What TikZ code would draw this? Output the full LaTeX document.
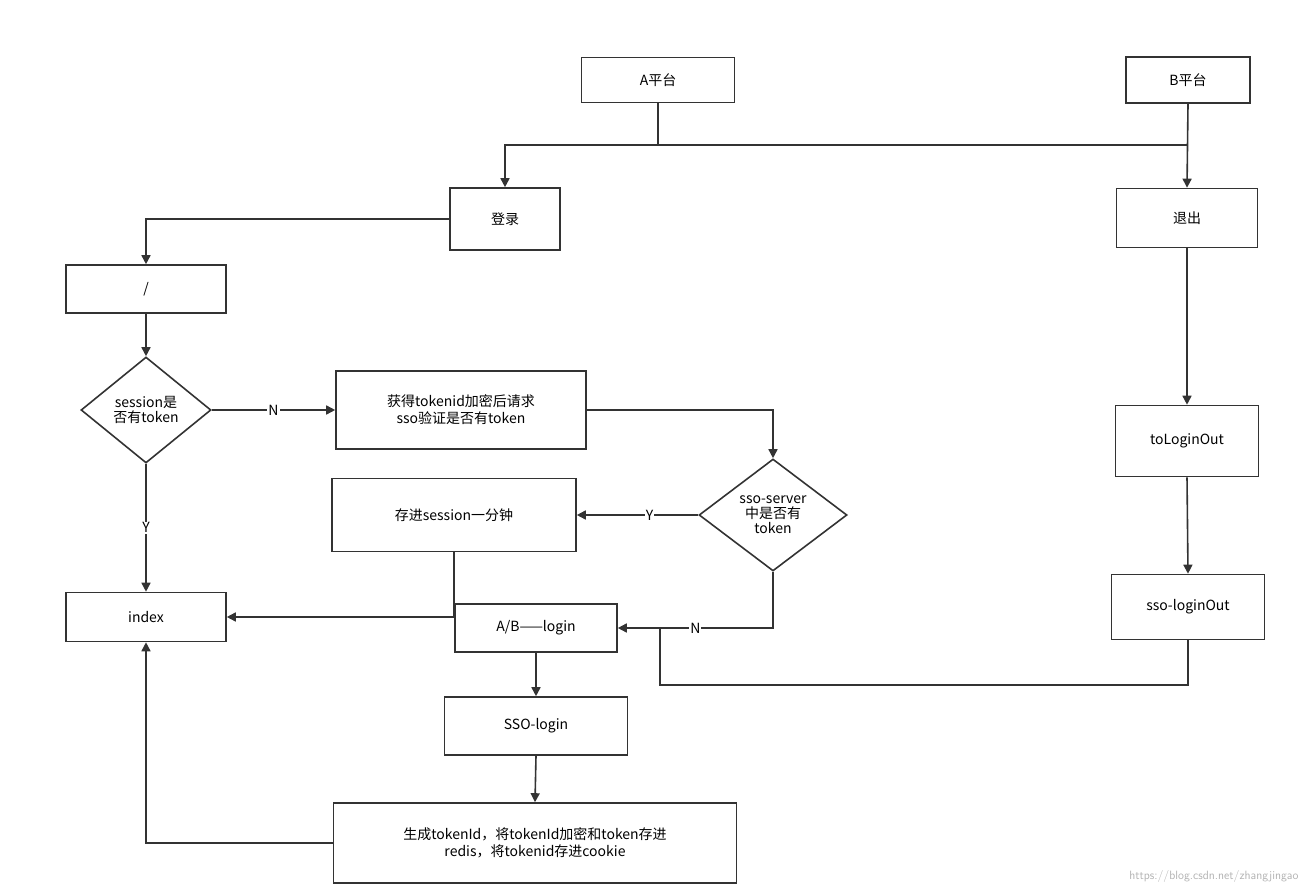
\documentclass[tikz,border=0pt]{standalone}
\usepackage{fontspec}
\setmainfont{Noto Sans CJK SC}
\usetikzlibrary{shapes.geometric,arrows.meta}
\definecolor{ln}{HTML}{333333}
\begin{document}
\begin{tikzpicture}[x=1pt,y=-1pt,
  box/.style={draw=ln,line width=1.6pt,minimum width=#1,inner sep=0pt,align=center,font=\fontsize{14}{17}\selectfont},
  dia/.style={draw=ln,line width=1.6pt,diamond,inner sep=0pt,minimum width=#1,align=center,font=\fontsize{14}{15}\selectfont},
  ar/.style={draw=ln,line width=1.6pt,-{Triangle[length=9pt,width=9pt]}},
  pl/.style={draw=ln,line width=1.6pt},
  lb/.style={fill=white,inner sep=1pt,font=\fontsize{14}{17}\selectfont}]
\useasboundingbox (0,0) rectangle (1306,893);
\node[box=153pt,minimum height=45pt] (A) at (658,80) {A平台};
\node[box=124pt,minimum height=46pt] (B) at (1188,80) {B平台};
\node[box=110pt,minimum height=62pt] (dl) at (505,219) {登录};
\node[box=141pt,minimum height=59pt] (tc) at (1187,218) {退出};
\node[box=160pt,minimum height=48pt] (sl) at (146,289) {/};
\node[dia=130pt,minimum height=106pt] (d1) at (146,410) {session是\\否有token};
\node[box=250pt,minimum height=78pt] (hd) at (461,410) {获得tokenid加密后请求\\sso验证是否有token};
\node[dia=148pt,minimum height=112pt] (d2) at (773,515) {sso-server\\中是否有\\token};
\node[box=244pt,minimum height=73pt] (cj) at (454,515) {存进session一分钟};
\node[box=160pt,minimum height=49pt] (ix) at (146,617) {index};
\node[box=162pt,minimum height=48pt] (ab) at (536,628) {A/B——login};
\node[box=183pt,minimum height=58pt] (sso) at (536,726) {SSO-login};
\node[box=403pt,minimum height=80pt] (sc) at (535,843) {生成tokenId，将tokenId加密和token存进\\redis，将tokenid存进cookie};
\node[box=143pt,minimum height=71pt] (tl) at (1187,441) {toLoginOut};
\node[box=153pt,minimum height=65pt] (so) at (1188,607) {sso-loginOut};
\coordinate (j1) at (658,145);
\coordinate (j2) at (660,685);
\path[pl] (A.south) -- (j1) -- (j1 -| B.south);
\path[ar] (j1) -| (dl.north);
\path[ar] (B.south) -- (tc.north);
\path[ar] (dl.west) -| (sl.north);
\path[ar] (sl.south) -- (d1.north);
\path[ar] (d1.east) -- node[lb]{N} (hd.west);
\path[ar] (d1.south) -- node[lb,pos=0.5]{Y} (ix.north);
\path[ar] (hd.east) -| (d2.north);
\path[ar] (d2.west) -- node[lb,pos=0.4]{Y} (cj.east);
\path[ar] (d2.south) |- node[lb,pos=0.75]{N} (ab.east);
\path[ar] (cj.south -| ab.west) -- (ix.east -| ab.west) -- (ix.east);
\path[ar] (ab.south) -- (sso.north);
\path[ar] (sso.south) -- (sc.north);
\path[ar] (sc.west) -| (ix.south);
\path[ar] (tc.south) -- (tl.north);
\path[ar] (tl.south) -- (so.north);
\path[pl] (so.south) |- (j2) -- (j2 |- ab.east);
\node[text=gray!60,font=\fontsize{12}{14}\selectfont\sffamily,anchor=east] (wm) at (1302,876) {https://blog.csdn.net/zhangjingao};
\end{tikzpicture}
\end{document}
